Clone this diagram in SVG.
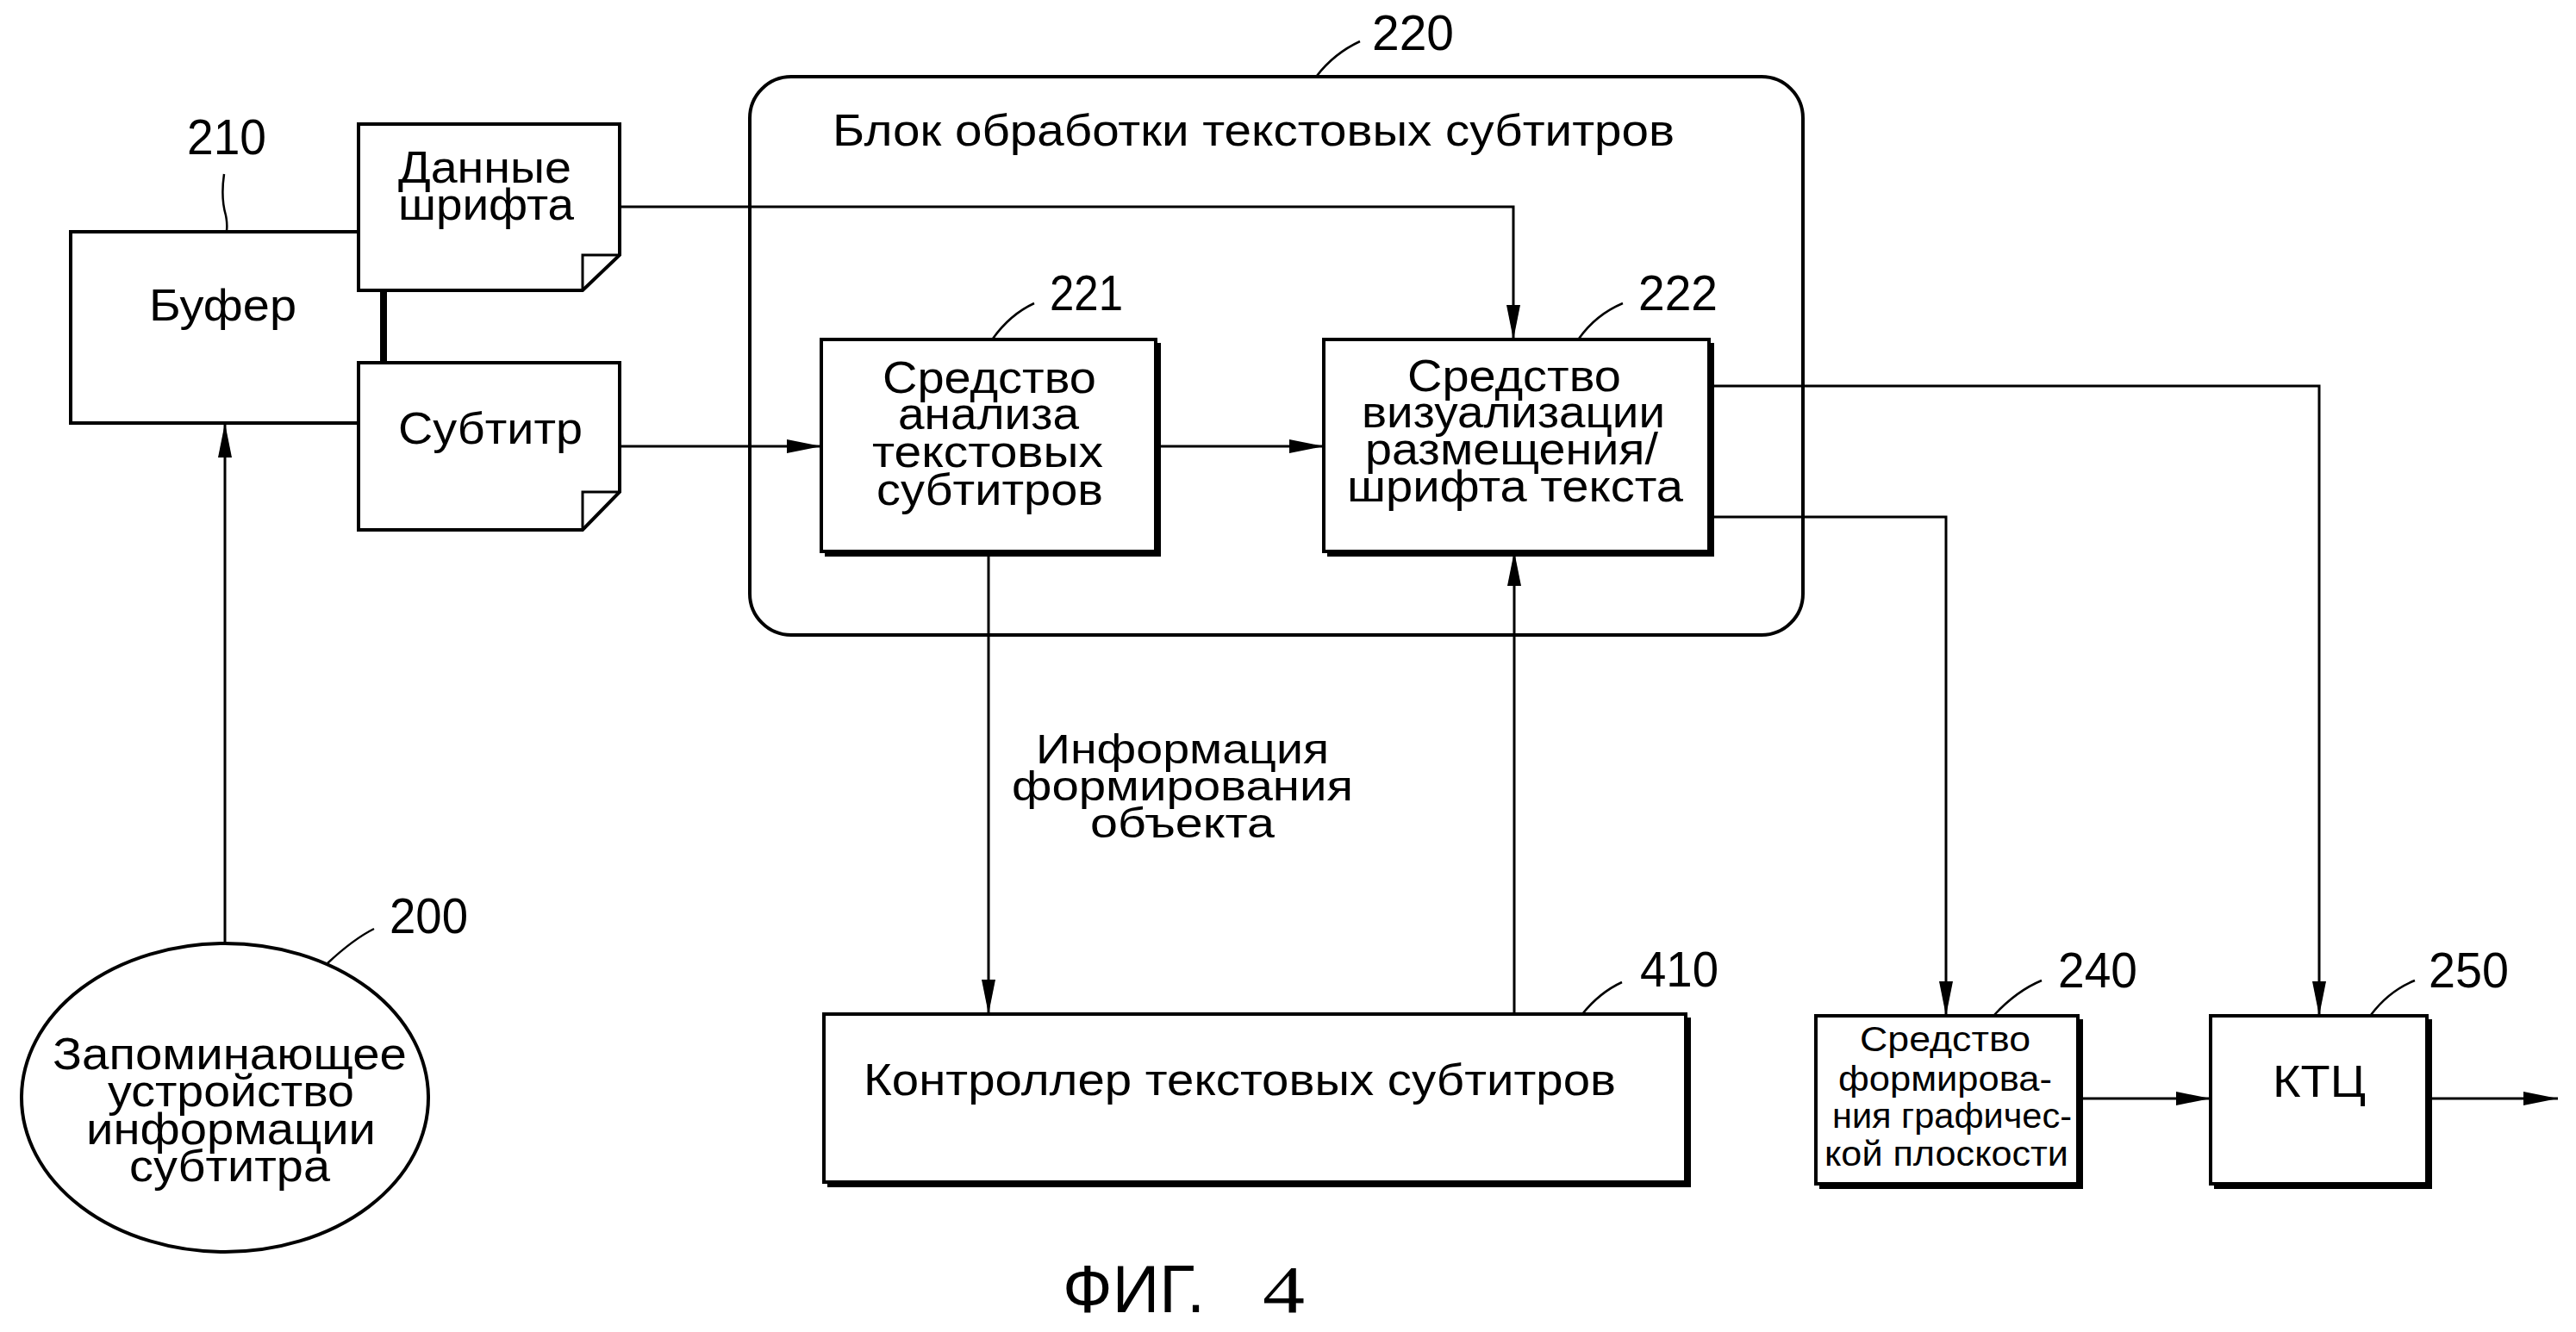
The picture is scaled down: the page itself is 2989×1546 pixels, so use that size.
<svg xmlns="http://www.w3.org/2000/svg" width="2989" height="1546" viewBox="0 0 2989 1546">
<style>
.box{fill:#fff;stroke:#000;stroke-width:4}
.sh{fill:none;stroke:#000;stroke-width:4}
.ln{fill:none;stroke:#000;stroke-width:3}
.ld{fill:none;stroke:#000;stroke-width:2.5}
.t{font-family:"Liberation Sans",Arial,sans-serif;font-size:52px;fill:#000}
.n{font-family:"Liberation Sans",Arial,sans-serif;font-size:58px;fill:#000}
.s{font-family:"Liberation Sans",Arial,sans-serif;font-size:40px;fill:#000}
</style>
<defs>
<marker id="ah" markerUnits="userSpaceOnUse" markerWidth="44" markerHeight="20" refX="40" refY="8" orient="auto"><path d="M0,0 L40,8 L0,16 Z" fill="#000"/></marker>
</defs>
<rect width="2989" height="1546" fill="#fff"/>

<g id="n220">
<rect x="870" y="89" width="1222" height="648" rx="48" ry="48" fill="none" stroke="#000" stroke-width="4"/>
<text class="t" x="966" y="169" textLength="977" lengthAdjust="spacingAndGlyphs">Блок обработки текстовых субтитров</text>
<path class="ld" d="M1578,48 Q1548,62 1528,88"/>
<text class="n" x="1592" y="58" textLength="95" lengthAdjust="spacingAndGlyphs">220</text>
</g>

<g id="connectors">
<path class="ln" d="M719,240 H1756 V394" marker-end="url(#ah)"/>
<path class="ln" d="M719,518 H953" marker-end="url(#ah)"/>
<path class="ln" d="M1341,518 H1536" marker-end="url(#ah)"/>
<path class="ln" d="M1147,640 V1177" marker-end="url(#ah)"/>
<path class="ln" d="M1757,1177 V640" marker-end="url(#ah)"/>
<path class="ln" d="M1983,448 H2691 V1179" marker-end="url(#ah)"/>
<path class="ln" d="M1983,600 H2258 V1179" marker-end="url(#ah)"/>
<path class="ln" d="M2411,1275 H2565" marker-end="url(#ah)"/>
<path class="ln" d="M2816,1275 H2968" marker-end="url(#ah)"/>
<path class="ln" d="M261,1095 V491" marker-end="url(#ah)"/>
<path d="M445,337 V421" fill="none" stroke="#000" stroke-width="8"/>
</g>

<g id="n210">
<path class="sh" d="M416,269 H82 V491 H416"/>
<text class="t" x="173" y="372" textLength="171" lengthAdjust="spacingAndGlyphs">Буфер</text>
<path class="ld" d="M260,202 Q256,230 262,250 Q264,260 263,268"/>
<text class="n" x="217" y="179" textLength="92" lengthAdjust="spacingAndGlyphs">210</text>
</g>

<g id="font-data">
<path class="box" d="M416,144 H719 V296 L676,337 H416 Z"/>
<path class="ln" d="M676,337 V296 H719"/>
<text class="t" x="462" y="212" textLength="201" lengthAdjust="spacingAndGlyphs">Данные</text>
<text class="t" x="462" y="255" textLength="204" lengthAdjust="spacingAndGlyphs">шрифта</text>
</g>

<g id="subtitle">
<path class="box" d="M416,421 H719 V571 L676,615 H416 Z"/>
<path class="ln" d="M676,615 V571 H719"/>
<text class="t" x="462" y="515" textLength="214" lengthAdjust="spacingAndGlyphs">Субтитр</text>
</g>

<g id="n221">
<rect class="box" x="953" y="394" width="388" height="246"/>
<path class="sh" d="M1345,398 V644 H957"/>
<text class="t" x="1024" y="456" textLength="248" lengthAdjust="spacingAndGlyphs">Средство</text>
<text class="t" x="1042" y="498" textLength="210" lengthAdjust="spacingAndGlyphs">анализа</text>
<text class="t" x="1012" y="542" textLength="268" lengthAdjust="spacingAndGlyphs">текстовых</text>
<text class="t" x="1017" y="586" textLength="263" lengthAdjust="spacingAndGlyphs">субтитров</text>
<path class="ld" d="M1200,352 Q1172,365 1152,393"/>
<text class="n" x="1218" y="360" textLength="85" lengthAdjust="spacingAndGlyphs">221</text>
</g>

<g id="n222">
<rect class="box" x="1536" y="394" width="447" height="246"/>
<path class="sh" d="M1987,398 V644 H1540"/>
<text class="t" x="1633" y="454" textLength="248" lengthAdjust="spacingAndGlyphs">Средство</text>
<text class="t" x="1580" y="496" textLength="352" lengthAdjust="spacingAndGlyphs">визуализации</text>
<text class="t" x="1584" y="539" textLength="340" lengthAdjust="spacingAndGlyphs">размещения/</text>
<text class="t" x="1563" y="582" textLength="390" lengthAdjust="spacingAndGlyphs">шрифта текста</text>
<path class="ld" d="M1883,352 Q1852,365 1832,393"/>
<text class="n" x="1901" y="360" textLength="92" lengthAdjust="spacingAndGlyphs">222</text>
</g>

<g id="n200">
<ellipse cx="261" cy="1274" rx="236" ry="179" fill="#fff" stroke="#000" stroke-width="4"/>
<text class="t" x="61" y="1241" textLength="411" lengthAdjust="spacingAndGlyphs">Запоминающее</text>
<text class="t" x="125" y="1284" textLength="286" lengthAdjust="spacingAndGlyphs">устройство</text>
<text class="t" x="100" y="1328" textLength="336" lengthAdjust="spacingAndGlyphs">информации</text>
<text class="t" x="150" y="1371" textLength="233" lengthAdjust="spacingAndGlyphs">субтитра</text>
<path class="ld" d="M434,1078 Q410,1090 380,1118"/>
<text class="n" x="452" y="1083" textLength="91" lengthAdjust="spacingAndGlyphs">200</text>
</g>

<g id="label-info">
<text class="t" style="font-size:48px" x="1202" y="886" textLength="340" lengthAdjust="spacingAndGlyphs">Информация</text>
<text class="t" style="font-size:48px" x="1174" y="929" textLength="396" lengthAdjust="spacingAndGlyphs">формирования</text>
<text class="t" style="font-size:48px" x="1265" y="972" textLength="214" lengthAdjust="spacingAndGlyphs">объекта</text>
</g>

<g id="n410">
<rect class="box" x="956" y="1177" width="1000" height="195"/>
<path class="sh" d="M1960,1181 V1376 H960"/>
<text class="t" x="1002" y="1271" textLength="873" lengthAdjust="spacingAndGlyphs">Контроллер текстовых субтитров</text>
<path class="ld" d="M1882,1140 Q1856,1152 1836,1177"/>
<text class="n" x="1903" y="1145" textLength="91" lengthAdjust="spacingAndGlyphs">410</text>
</g>

<g id="n240">
<rect class="box" x="2107" y="1179" width="304" height="195"/>
<path class="sh" d="M2415,1183 V1378 H2111"/>
<text class="s" x="2158" y="1220" textLength="198" lengthAdjust="spacingAndGlyphs">Средство</text>
<text class="s" x="2133" y="1266" textLength="248" lengthAdjust="spacingAndGlyphs">формирова-</text>
<text class="s" x="2126" y="1309" textLength="278" lengthAdjust="spacingAndGlyphs">ния графичес-</text>
<text class="s" x="2117" y="1353" textLength="283" lengthAdjust="spacingAndGlyphs">кой плоскости</text>
<path class="ld" d="M2369,1138 Q2340,1150 2314,1178"/>
<text class="n" x="2388" y="1146" textLength="92" lengthAdjust="spacingAndGlyphs">240</text>
</g>

<g id="n250">
<rect class="box" x="2565" y="1179" width="251" height="195"/>
<path class="sh" d="M2820,1183 V1378 H2569"/>
<text class="t" x="2637" y="1273" textLength="108" lengthAdjust="spacingAndGlyphs">КТЦ</text>
<path class="ld" d="M2802,1138 Q2772,1150 2751,1178"/>
<text class="n" x="2818" y="1146" textLength="93" lengthAdjust="spacingAndGlyphs">250</text>
</g>

<g id="caption">
<text x="1233" y="1523" style="font-family:'Liberation Sans',Arial,sans-serif;font-size:78px" textLength="165" lengthAdjust="spacingAndGlyphs">ФИГ.</text>
<text x="1465" y="1523" style="font-family:'Liberation Serif','Times New Roman',serif;font-size:78px" textLength="49" lengthAdjust="spacingAndGlyphs">4</text>
</g>
</svg>
